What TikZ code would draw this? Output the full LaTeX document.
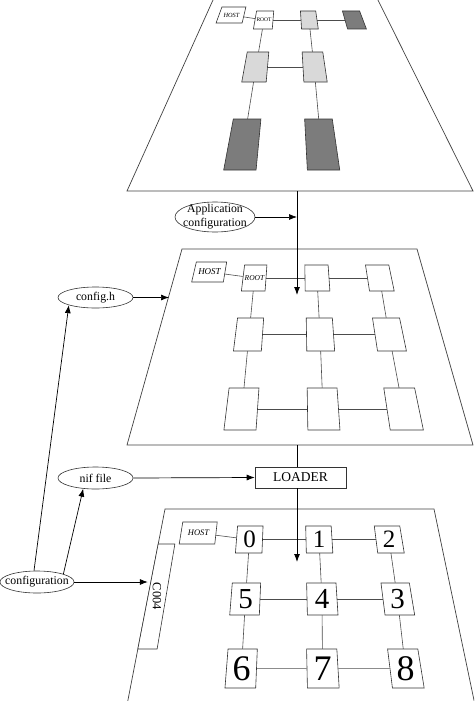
\documentclass[tikz,border=0pt]{standalone}
\usepackage{fontspec}
\setmainfont{Liberation Serif}
\usepackage{graphicx}
\usetikzlibrary{arrows.meta,shapes.geometric,calc}
\definecolor{lg}{HTML}{D9D9D9}
\definecolor{dg}{HTML}{7C7C7C}
\tikzset{
  ln/.style={line width=0.6pt, draw=black!80},
  conn/.style={line width=0.6pt, draw=black!70},
  connlight/.style={line width=0.6pt, draw=black!45},
  arr/.style={line width=0.7pt, draw=black, -{Latex[length=8pt,width=6pt]}},
  vline/.style={line width=0.9pt, draw=black},
  oval/.style={ellipse, draw=black!80, line width=0.6pt, inner sep=-12pt, align=center,
    font=\fontsize{11.8}{14}\selectfont},
  plane/.style={line width=0.7pt, draw=black!75},
  loaderbox/.style={rectangle, draw=black!80, line width=0.6pt, inner sep=0pt,
    minimum width=91pt, minimum height=21pt, font=\fontsize{13.5}{14}\selectfont},
}
% name, cx, cy, w, h, vx, vy, fill, text
\newcommand\pbox[9]{%
  \pgfmathsetmacro\pbFt{(#3-0.5*#5-(#7))/(#3-(#7))}%
  \pgfmathsetmacro\pbFb{(#3+0.5*#5-(#7))/(#3-(#7))}%
  \pgfmathsetmacro\pbXa{#6+(#2-0.5*#4-#6)*\pbFt}%
  \pgfmathsetmacro\pbXb{#6+(#2+0.5*#4-#6)*\pbFt}%
  \pgfmathsetmacro\pbXc{#6+(#2+0.5*#4-#6)*\pbFb}%
  \pgfmathsetmacro\pbXd{#6+(#2-0.5*#4-#6)*\pbFb}%
  \pgfmathsetmacro\pbYt{#3-0.5*#5}%
  \pgfmathsetmacro\pbYb{#3+0.5*#5}%
  \draw[ln, fill=#8] (\pbXa,\pbYt) -- (\pbXb,\pbYt) -- (\pbXc,\pbYb) -- (\pbXd,\pbYb) -- cycle;
  \node[minimum width=#4pt, minimum height=#5pt, inner sep=0pt] (#1) at (#2,#3) {#9};
}
\newcommand\fsz[1]{\fontsize{#1}{#1}\selectfont}
\begin{document}
\begin{tikzpicture}[x=1pt,y=-1pt]
\useasboundingbox (0,0) rectangle (474,701);
\clip (0,0) rectangle (474,701);

% ---------- planes ----------
\draw[plane] (217.5,-10) -- (127,191) -- (473,191) -- (373,-10);
\draw[plane] (182,249) -- (417,249) -- (473,445) -- (127,445) -- cycle;
\draw[plane] (127,705) -- (165,509) -- (434,509) -- (475,705);

% ---------- top plane ----------
\pbox{tH}{231.5}{15}{25}{16}{289}{-176}{white}{\fsz{6.3}\itshape HOST}
\pbox{tR}{264}{20}{18}{18}{289}{-176}{white}{\fsz{5.5}ROOT}
\pbox{tA}{309}{20}{16}{18}{289}{-176}{lg}{}
\pbox{tB}{354}{20}{18}{18}{289}{-176}{dg}{}
\pbox{tC}{256}{67}{23}{30}{289}{-176}{lg}{}
\pbox{tD}{314}{67}{22}{30}{289}{-176}{lg}{}
\pbox{tE}{243.5}{144.5}{30}{51}{289}{-176}{dg}{}
\pbox{tF}{321}{144.5}{30}{51}{289}{-176}{dg}{}
\draw[conn] (tH) -- (tR);
\draw[conn] (tR) -- (tA);
\draw[conn] (tA) -- (tB);
\draw[conn] (tR) -- (tC);
\draw[conn] (tC) -- (tE);
\draw[conn] (tA) -- (tD);
\draw[conn] (tD) -- (tF);
\draw[conn] (tC) -- (tD);

% ---------- middle plane ----------
\pbox{mH}{209.5}{272}{31}{20}{298}{-171}{white}{\fsz{9}\itshape HOST}
\pbox{mR}{254.5}{278}{23}{26}{298}{-171}{white}{\fsz{7.5}\itshape ROOT}
\pbox{mA}{317}{278}{24}{26}{298}{-171}{white}{}
\pbox{mB}{379.5}{278}{24}{26}{298}{-171}{white}{}
\pbox{mC}{249}{334.5}{27}{33}{298}{-171}{white}{}
\pbox{mD}{320}{334.5}{27}{33}{298}{-171}{white}{}
\pbox{mE}{389}{334.5}{28}{33}{298}{-171}{white}{}
\pbox{mF}{242}{409}{31}{42}{298}{-171}{white}{}
\pbox{mG}{323}{409}{31}{42}{298}{-171}{white}{}
\pbox{mI}{403}{409}{32}{42}{298}{-171}{white}{}
\draw[conn] (mH) -- (mR);
\draw[conn] (mR) -- (mA);
\draw[conn] (mA) -- (mB);
\draw[conn] (mC) -- (mD);
\draw[conn] (mD) -- (mE);
\draw[conn] (mF) -- (mG);
\draw[conn] (mG) -- (mI);
\draw[conn] (mR) -- (mC);
\draw[conn] (mC) -- (mF);
\draw[conn] (mA) -- (mD);
\draw[conn] (mD) -- (mG);
\draw[conn] (mB) -- (mE);
\draw[conn] (mE) -- (mI);

% ---------- bottom plane ----------
\pbox{c4}{157}{596.5}{18}{105}{290}{-137}{white}{\rotatebox{-90}{\fsz{12.5}C004}}
\pbox{bH}{198.5}{533}{35}{22}{290}{-137}{white}{\fsz{8.5}\itshape HOST}
\pbox{b0}{249.5}{539.5}{26}{27}{290}{-137}{white}{\fsz{25}0}
\pbox{b1}{319}{539.5}{26}{27}{290}{-137}{white}{\fsz{25}1}
\pbox{b2}{389}{539.5}{26}{27}{290}{-137}{white}{\fsz{25}2}
\pbox{b5}{245.5}{599}{29}{32}{290}{-137}{white}{\fsz{29}5}
\pbox{b4}{322}{599}{30}{32}{290}{-137}{white}{\fsz{29}4}
\pbox{b3}{397.5}{599}{29}{32}{290}{-137}{white}{\fsz{29}3}
\pbox{b6}{241.5}{668.5}{30}{39}{290}{-137}{white}{\fsz{36}6}
\pbox{b7}{322.5}{668.5}{31}{39}{290}{-137}{white}{\fsz{36}7}
\pbox{b8}{405.5}{668.5}{31}{39}{290}{-137}{white}{\fsz{36}8}
\draw[conn] (bH) -- (b0);
\draw[conn] (b0) -- (b1);
\draw[conn] (b1) -- (b2);
\draw[conn] (b5) -- (b4);
\draw[conn] (b4) -- (b3);
\draw[connlight] (b6) -- (b7);
\draw[connlight] (b7) -- (b8);
\draw[conn] (b0) -- (b5);
\draw[conn] (b5) -- (b6);
\draw[conn] (b1) -- (b4);
\draw[conn] (b4) -- (b7);
\draw[conn] (b2) -- (b3);
\draw[conn] (b3) -- (b8);

% ---------- side elements ----------
\node[oval, minimum width=80pt, minimum height=30pt] (app) at (215,217) {Application\\configuration};
\node[oval, minimum width=75pt, minimum height=21pt] (confh) at (95.5,297.5) {config.h};
\node[oval, minimum width=75pt, minimum height=22pt] (nif) at (95.5,478) {nif file};
\node[oval, minimum width=74pt, minimum height=22pt] (cfg) at (37,582) {configuration};
\node[loaderbox] (ld) at (300.5,477.5) {LOADER};

\coordinate (vtop) at (297,191);
\coordinate (vjoin) at (297,217);
\coordinate (vmid) at (297,295);
\coordinate (mbot) at (297,445);
\coordinate (vlow) at (297,562);
\coordinate (pedge) at (169,297.5);

\draw[vline, -{Latex[length=8pt,width=6pt]}] (vtop) -- (vmid);
\draw[arr] (app.east) -- (vjoin);
\draw[arr] (confh.east) -- (pedge);
\draw[vline] (mbot) -- (mbot |- ld.north);
\draw[vline, -{Latex[length=8pt,width=6pt]}] (ld.south -| vlow) -- (vlow);
\draw[arr] (nif.east) -- (ld.west);
\draw[arr] (cfg.105) -- (confh.196);
\draw[arr] (cfg.north east) -- (nif.221);
\draw[arr] (cfg.east) -- (cfg.east -| c4.west);
\end{tikzpicture}
\end{document}
